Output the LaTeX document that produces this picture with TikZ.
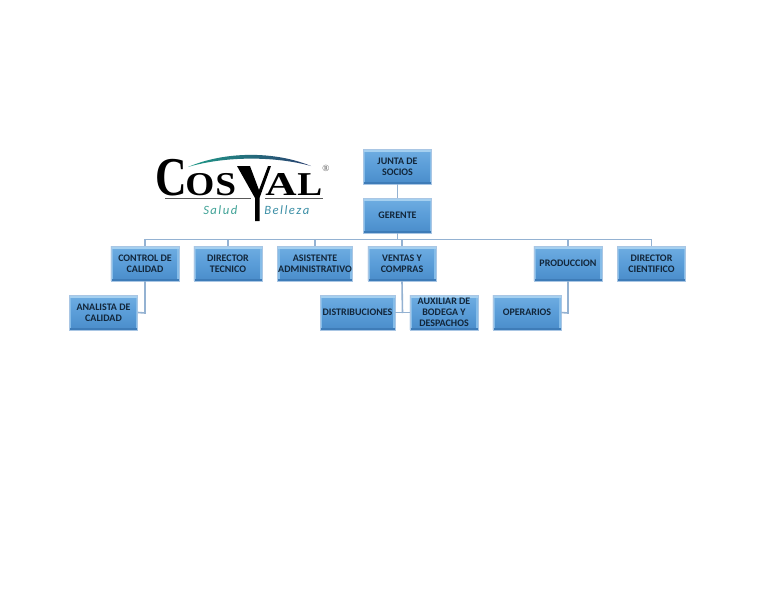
\documentclass[tikz,border=0pt]{standalone}
\usepackage{fontspec}
\setmainfont{Carlito}
\newfontfamily\logofont{Liberation Serif}
\newfontfamily\logonarrow[FakeStretch=.8]{Liberation Serif Bold}
\newfontfamily\logowide[FakeStretch=1.12]{Liberation Serif Bold}
\newfontfamily\logoawide[FakeStretch=1.3]{Liberation Serif Bold}
\usetikzlibrary{calc}
\definecolor{boxedge}{HTML}{A9C6E4}
\definecolor{boxtop}{HTML}{6FAEE2}
\definecolor{boxmid}{HTML}{5A9DD8}
\definecolor{boxbot}{HTML}{4A8CCA}
\definecolor{bevelhi}{HTML}{A5D0F0}
\definecolor{bevelside}{HTML}{85BCE8}
\definecolor{bevellow}{HTML}{3E7CB8}
\definecolor{linkc}{HTML}{94B2D2}
\definecolor{inkc}{HTML}{12263A}
\definecolor{tealc}{HTML}{3FA296}
\definecolor{bluetc}{HTML}{3C8FA6}
\definecolor{arcteal}{HTML}{1F9A88}
\definecolor{navyc}{HTML}{2A3F70}
\tikzset{
 orgbox/.style={rectangle,inner sep=0pt,minimum height=26pt,minimum width=51.2pt,align=center,
  top color=boxtop,bottom color=boxbot,middle color=boxmid,draw=boxedge,line width=.5pt,
  text=inkc,font=\bfseries\fontsize{7.5}{8.25}\selectfont,
  path picture={
   \fill[bevelside] (path picture bounding box.north west) rectangle ([xshift=1.4pt]path picture bounding box.south west);
   \fill[bevelside] (path picture bounding box.north east) rectangle ([xshift=-1.4pt]path picture bounding box.south east);
   \fill[bevellow] (path picture bounding box.south west) rectangle ([yshift=1.2pt]path picture bounding box.south east);
   \fill[bevelhi] (path picture bounding box.north west) rectangle ([yshift=-1.8pt]path picture bounding box.north east);
  }},
 widebox/.style={orgbox,minimum width=56pt},
 link/.style={draw=linkc,line width=1.2pt},
 logotxt/.style={inner sep=0pt,text=black},
 slogan/.style={inner sep=0pt,font=\itshape\fontsize{9.5}{10}\selectfont}
}
\begin{document}
\begin{tikzpicture}[x=.75pt,y=-.75pt]
\useasboundingbox (0,0) rectangle (768,594);
\fill[white] (0,0) rectangle (768,594);
\coordinate (bus) at (397.5,239.5);
\coordinate (cbend) at (145,313);
\coordinate (vbend) at (402.5,313);
\coordinate (pbend) at (568,313);
\node[orgbox] (junta) at (397.5,166.5) {JUNTA DE\\SOCIOS};
\node[orgbox] (gerente) at (397.5,215.5) {GERENTE};
\node[orgbox] (control) at (145,263.5) {CONTROL DE\\CALIDAD};
\node[orgbox] (tecnico) at (228,263.5) {DIRECTOR\\TECNICO};
\node[widebox] (asist) at (315,263.5) {ASISTENTE\\ADMINISTRATIVO};
\node[orgbox] (ventas) at (402,263.5) {VENTAS Y\\COMPRAS};
\node[orgbox] (prod) at (568,263.5) {PRODUCCION};
\node[orgbox] (cient) at (651.5,263.5) {DIRECTOR\\CIENTIFICO};
\node[orgbox] (analista) at (103.5,312.5) {ANALISTA DE\\CALIDAD};
\node[widebox] (distrib) at (357.5,312.5) {DISTRIBUCIONES};
\node[orgbox] (aux) at (444,312.5) {AUXILIAR DE\\BODEGA Y\\DESPACHOS};
\node[orgbox] (oper) at (527,312.5) {OPERARIOS};
\draw[link] (junta.south) -- (gerente.north);
\draw[link] (gerente.south) -- (bus);
\foreach \n in {control,tecnico,asist,ventas,prod,cient}{
 \draw[link] (bus) -| (\n.north);
}
\draw[link] (control.south) -- (cbend) -- (analista.east);
\draw[link] (ventas.south) -- (vbend);
\draw[link] (distrib.east) -- (aux.west);
\draw[link] (prod.south) -- (pbend) -- (oper.east);
% logo
\shade[left color=arcteal,right color=navyc] (188,167) .. controls (225,151) and (275,151) .. (311,166) .. controls (275,156) and (225,156) .. (188,167) -- cycle;
\node[logotxt,font=\logonarrow\fontsize{41}{41}\selectfont,anchor=base west] (logoC) at (155.5,195) {C};
\node[logotxt,font=\logowide\fontsize{25}{25}\selectfont,anchor=base west] (logoO) at (185,195) {O};
\node[logotxt,font=\logowide\fontsize{25}{25}\selectfont,anchor=base west] (logoS) at (215,195) {S};
\node[logotxt,font=\logoawide\fontsize{25}{25}\selectfont,anchor=base west] (logoA) at (265,195) {A};
\node[logotxt,font=\logowide\fontsize{25}{25}\selectfont,anchor=base west] (logoL) at (297,195) {L};
\fill[black] (237,166) -- (250,166) -- (259,190) -- (268,166) -- (271,166) -- (259.5,198) -- (259.5,221) -- (255,221) -- (255,198) -- cycle;
\draw[black!65,line width=.8pt] (165,198.5) -- (251,198.5);
\draw[black!65,line width=.8pt] (265,198.5) -- (323,198.5);
\node[slogan,text=tealc,anchor=base west] (salud) at (203,214) {S\kern1.1pt a\kern1.1pt l\kern1.1pt u\kern1.1pt d};
\node[slogan,text=bluetc,anchor=base west] (belleza) at (264,214) {B\kern1.1pt e\kern1.1pt l\kern1.1pt l\kern1.1pt e\kern1.1pt z\kern1.1pt a};
\node[inner sep=0pt,text=black!70,font=\logofont\fontsize{7}{7}\selectfont] (reg) at (326,168) {®};
\end{tikzpicture}
\end{document}
